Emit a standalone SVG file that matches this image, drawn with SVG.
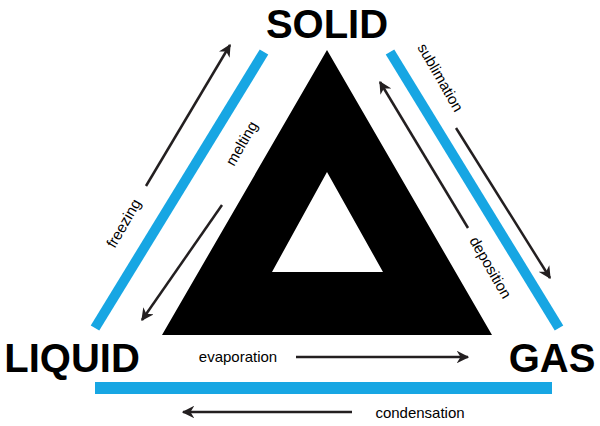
<svg xmlns="http://www.w3.org/2000/svg" width="600" height="426" viewBox="0 0 600 426">
<defs>
<marker id="ah" viewBox="0 0 10 10" refX="9" refY="5" markerWidth="5" markerHeight="5" orient="auto"><path d="M0,0 L10,5 L0,10 L3,5 Z" fill="#231f20"/></marker>
<style>
.big{font-family:"Liberation Sans",sans-serif;font-weight:bold;font-size:40px;fill:#000}
.lbl{font-family:"Liberation Sans",sans-serif;font-size:15px;fill:#000}
.blue{stroke:#17a6e3;stroke-width:10}
.arr{stroke:#231f20;stroke-width:2.5;fill:none;marker-end:url(#ah)}
</style>
</defs>
<rect width="600" height="426" fill="#fff"/>
<g id="triangle">
<path d="M327,50 L492,335 L162,335 Z M327,172 L272,272 L383,272 Z" fill="#000" fill-rule="evenodd"/>
</g>
<g id="bars">
<line class="blue" x1="264" y1="52" x2="95" y2="328"/>
<line class="blue" x1="390" y1="52" x2="559" y2="328"/>
<line class="blue" x1="95" y1="388" x2="552" y2="388" style="stroke-width:12"/>
</g>
<g id="solid"><text class="big" x="327" y="38" text-anchor="middle">SOLID</text></g>
<g id="liquid"><text class="big" x="72" y="372" text-anchor="middle">LIQUID</text></g>
<g id="gas"><text class="big" x="552" y="372" text-anchor="middle">GAS</text></g>
<g id="connectors">
<line class="arr" x1="146" y1="186" x2="230" y2="45"/>
<line class="arr" x1="222" y1="205" x2="142" y2="320"/>
<line class="arr" x1="456" y1="128" x2="550" y2="278"/>
<line class="arr" x1="468" y1="228" x2="380" y2="82"/>
<line class="arr" x1="296" y1="357" x2="468" y2="357"/>
<line class="arr" x1="352" y1="412" x2="183" y2="412"/>
</g>
<g id="labels">
<text class="lbl" transform="translate(128,226) rotate(-60)" text-anchor="middle">freezing</text>
<text class="lbl" transform="translate(246,146) rotate(-60)" text-anchor="middle">melting</text>
<text class="lbl" transform="translate(436,80) rotate(60)" text-anchor="middle">sublimation</text>
<text class="lbl" transform="translate(486,270) rotate(60)" text-anchor="middle">deposition</text>
<text class="lbl" x="238" y="362" text-anchor="middle">evaporation</text>
<text class="lbl" x="420" y="418" text-anchor="middle">condensation</text>
</g>
</svg>
